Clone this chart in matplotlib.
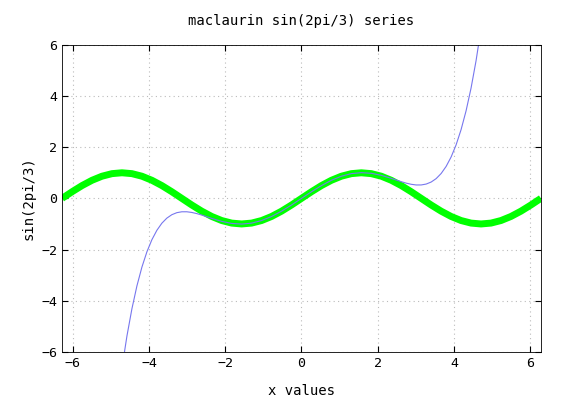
import matplotlib
matplotlib.use("Agg")
import matplotlib.pyplot as plt
import numpy as np

# sample positions (x >= 0); curves are odd so negative side mirrors
x_pos = [0.0, 0.2618, 0.5236, 0.7854, 1.0472, 1.3090, 1.5708, 1.8326, 2.0944, 2.3562,
         2.6180, 2.8798, 3.1416, 3.4034, 3.6652, 3.9270, 4.1888, 4.4506, 4.7124, 4.9742,
         5.2360, 5.4978, 5.7596, 6.0214, 6.2832]
sin_pos = [0.0, 0.259, 0.5, 0.707, 0.866, 0.966, 1.0, 0.966, 0.866, 0.707,
           0.5, 0.259, 0.0, -0.259, -0.5, -0.707, -0.866, -0.966, -1.0, -0.966,
           -0.866, -0.707, -0.5, -0.259, 0.0]
series_x = [0.0, 0.2618, 0.5236, 0.7854, 1.0472, 1.3090, 1.5708, 1.8326, 2.0944, 2.3562,
            2.6180, 2.7489, 2.8798, 3.0107, 3.1416, 3.2725, 3.4034, 3.5343, 3.6652, 3.7961,
            3.9270, 4.0579, 4.1888, 4.3197, 4.4506, 4.5815, 4.7124, 4.8433, 4.9742, 5.2360]
series_pos = [0.0, 0.2588, 0.5000, 0.7071, 0.8663, 0.9672, 1.0045, 0.9791, 0.8991, 0.7813,
              0.6522, 0.5950, 0.5500, 0.5237, 0.5241, 0.5590, 0.6383, 0.7718, 0.9709, 1.2481,
              1.6162, 2.090, 2.6865, 3.420, 4.310, 5.376, 6.636, 8.117, 9.84, 14.11]

def mirror(xs, ys):
    xs = np.array(xs); ys = np.array(ys)
    return np.concatenate([-xs[::-1], xs[1:]]), np.concatenate([-ys[::-1], ys[1:]])

xs, ys = mirror(x_pos, sin_pos)
xm, ym = mirror(series_x, series_pos)

plt.rcParams['font.family'] = ['DejaVu Sans Mono']
fig = plt.figure(figsize=(5.86, 4.15), dpi=100)
ax = fig.add_axes([0.106, 0.152, 0.817, 0.740])
ax.plot(xs, ys, color='#00ff00', lw=5, solid_capstyle='butt', solid_joinstyle='round')
ax.plot(xm, ym, color='#7777ee', lw=0.8, solid_joinstyle='round')
ax.set_xlim(-2*np.pi, 2*np.pi)
ax.set_ylim(-6, 6)
ax.set_xticks([-6, -4, -2, 0, 2, 4, 6])
ax.set_yticks([-6, -4, -2, 0, 2, 4, 6])
ax.grid(True, color='#bbbbbb', linestyle=(0, (1, 3)), lw=0.8)
ax.tick_params(direction='in', top=True, right=True, labelsize=9.5, length=4)
for s in ax.spines.values():
    s.set_linewidth(0.6)
ax.set_xlabel('x values', fontsize=10, labelpad=10)
ax.set_ylabel('sin(2pi/3)', fontsize=10, labelpad=4)
ax.set_title('maclaurin sin(2pi/3) series', fontsize=10, pad=14)
fig.savefig('out.png', dpi=100)
